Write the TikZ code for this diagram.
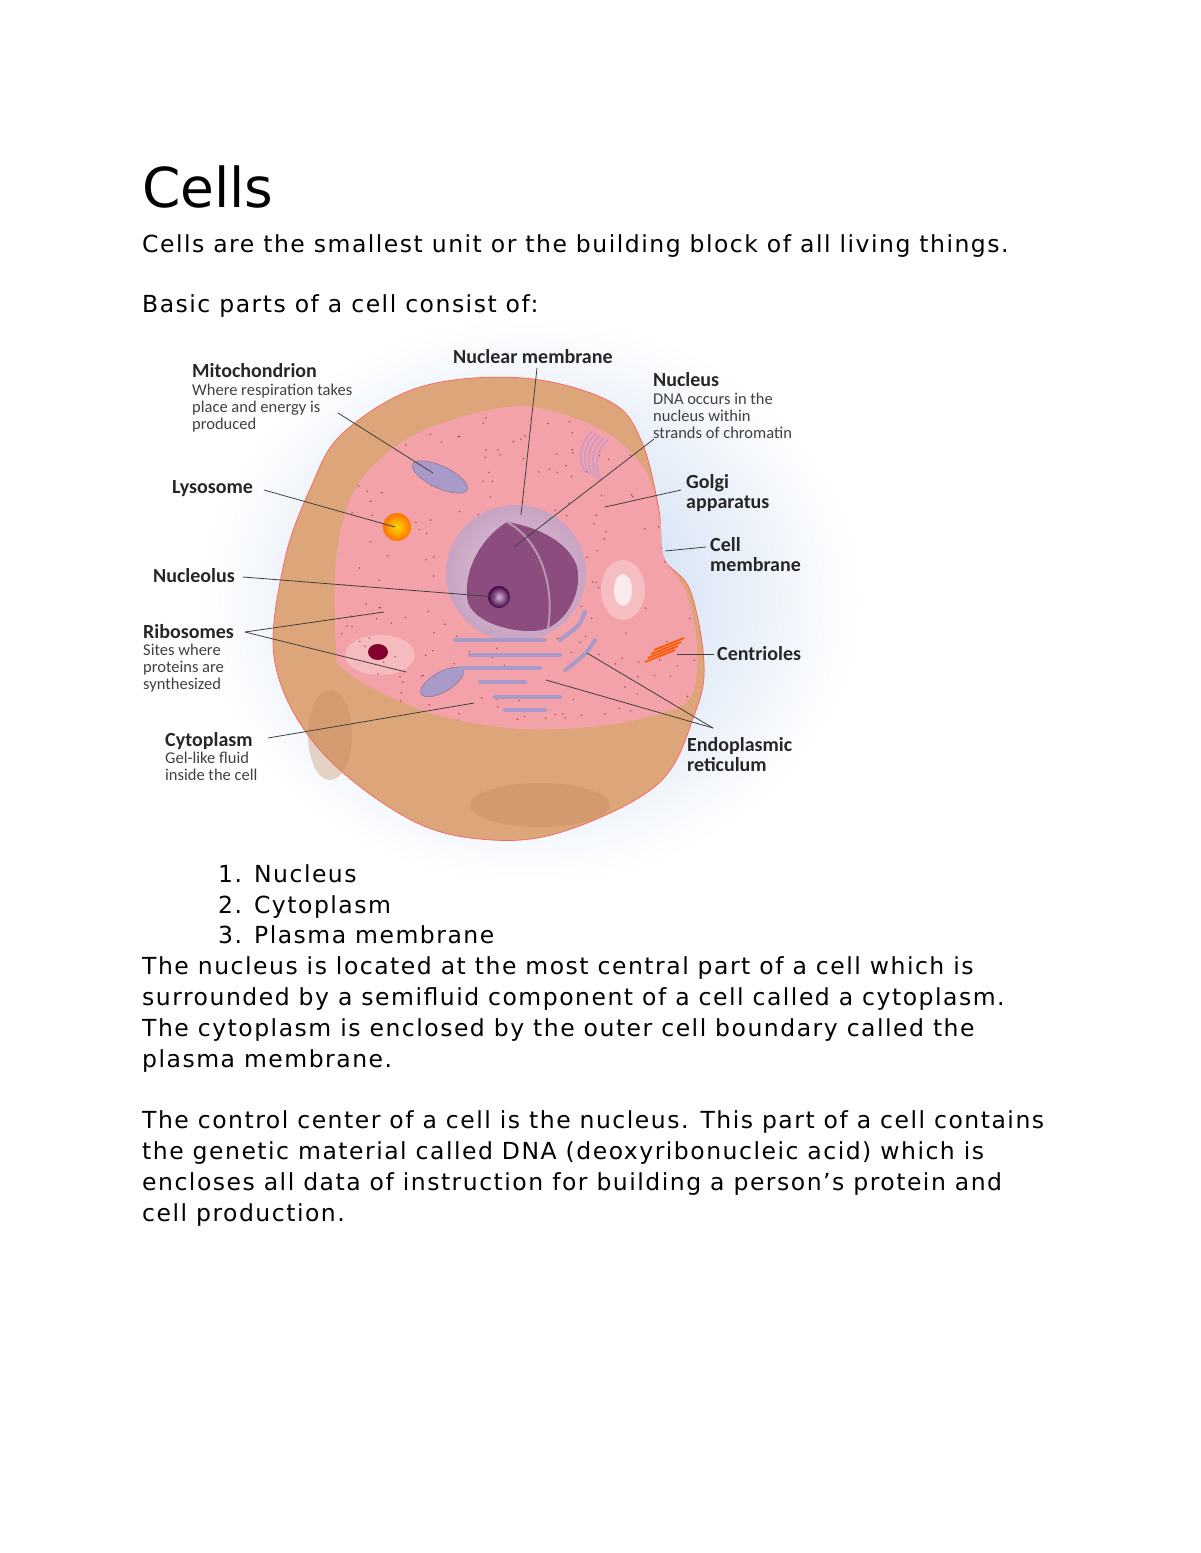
\documentclass[tikz,border=0pt]{standalone}
\usepackage{fontspec}
\setmainfont{DejaVu Sans}
\newfontfamily\bodyf[LetterSpace=6.4]{DejaVu Sans}
\newfontfamily\lab{Carlito}
\begin{document}
\begin{tikzpicture}[x=1pt,y=-1pt,
  body/.style={anchor=base west,inner sep=0pt,font=\bodyf\fontsize{23.5}{31}\selectfont},
  lbl/.style={anchor=base west,inner sep=0pt,font=\lab\bfseries\fontsize{20}{20}\selectfont,text=black!85},
  desc/.style={anchor=base west,inner sep=0pt,font=\lab\fontsize{16.5}{17}\selectfont,text=black!75,align=left},
  lead/.style={draw=black!75,line width=0.8pt}]
\useasboundingbox (0,0) rectangle (1200,1553);
\definecolor{tan}{HTML}{DDA57A}
\definecolor{tandark}{HTML}{C38A5E}
\definecolor{pinkc}{HTML}{F2A2A8}
\definecolor{pinkl}{HTML}{F9C6C8}
\definecolor{lilac}{HTML}{A99BC9}
\definecolor{nucout}{HTML}{C8A3C3}
\definecolor{nucin}{HTML}{8C4D7E}
\definecolor{glow}{HTML}{BFD3EE}
% glow
\shade[inner color=glow,outer color=white] (530,600) ellipse (330 and 285);
% title & text
\node[anchor=base west,inner sep=0pt,font=\fontsize{55}{60}\selectfont] (title) at (142,207) {Cells};
\node[body] (t1) at (142,252) {Cells are the smallest unit or the building block of all living things.};
\node[body] (t2) at (142,312) {Basic parts of a cell consist of:};
% outer cell
\fill[tan,draw=red!50!pink,line width=0.7pt] plot[smooth cycle,tension=0.6] coordinates{
 (343,433) (420,387) (523,378) (609,401) (641,440) (659,510) (663,557) (690,590)
 (704,663) (695,713) (659,783) (568,830) (492,840) (411,820) (320,750) (275,663) (284,563) (311,487)};
\fill[tandark,opacity=0.35] (330,735) ellipse (22 and 45);
\fill[tandark,opacity=0.4] (540,805) ellipse (70 and 22);
% interior
\path[fill=pinkc] plot[smooth cycle,tension=0.55] coordinates{
 (336,650) (336,560) (352,495) (388,452) (440,424) (523,406) (602,430) (645,470) (660,520) (664,557)
 (686,592) (697,645) (692,695) (663,713) (600,726) (520,729) (440,716) (380,692) (342,668)};
\fill[pinkl,opacity=0.8] (623,590) ellipse (22 and 30);
\fill[white,opacity=0.7] (623,590) ellipse (9 and 16);
\fill[pinkl,opacity=0.7] (380,655) ellipse (35 and 20);
\begin{scope}
\clip plot[smooth cycle,tension=0.55] coordinates{
 (336,650) (336,560) (352,495) (388,452) (440,424) (523,406) (602,430) (645,470) (660,520) (664,557)
 (686,592) (697,645) (692,695) (663,713) (600,726) (520,729) (440,716) (380,692) (342,668)};
\pgfmathsetseed{7}
\foreach \i in {1,...,220}{\pgfmathsetmacro\xx{330+370*rnd}\pgfmathsetmacro\yy{400+330*rnd}
 \fill[red!45!black,opacity=0.5] (\xx,\yy) circle (0.9);}
\end{scope}
% organelles
\fill[lilac,draw=lilac!70!black,rotate around={-25:(440,477)}] (440,477) ellipse (30 and 11);
\fill[lilac,draw=lilac!70!black,rotate around={30:(442,682)}] (442,682) ellipse (24 and 10);
\shade[inner color=yellow!70!orange,outer color=orange!90!red] (397,527) circle (14);
\fill[purple!70!black] (378,652) ellipse (10 and 8);
\foreach \k in {0,...,4}{\draw[violet!40,line width=1.6pt] (585+\k*4,472+\k*2) arc[start angle=150,end angle=230,radius=32];}
\foreach \k in {0,...,3}{\draw[orange!70!red,line width=1.8pt] (645+\k*3,662-\k*4)--(675+\k*3,650-\k*4);}
% nucleus
\shade[inner color=nucout!60,outer color=nucout] (516,573) ellipse (70 and 68);
\fill[nucin] (507,522) .. controls (478,540) and (462,575) .. (468,603) .. controls (478,628) and (530,636) .. (548,628)
 .. controls (568,618) and (580,595) .. (578,572) .. controls (575,548) and (545,528) .. (507,522);
\draw[nucin!60!white,line width=2pt] (507,522) .. controls (540,540) and (555,585) .. (548,628);
\shade[inner color=white!70!violet,outer color=violet!50!black] (499,597) circle (11);
% ER
\foreach \a/\b/\c in {455/640/545,470/655/560,460/668/540,480/682/525,495/697/560,505/710/545}{
 \draw[lilac,line width=4pt,line cap=round] (\a,\b)--(\c,\b);}
\draw[lilac,line width=4pt,line cap=round] (560,640) .. controls (580,625) .. (585,612);
\draw[lilac,line width=4pt,line cap=round] (565,670) .. controls (585,655) .. (595,640);
% labels
\node[lbl] (nm) at (453,363) {Nuclear membrane};
\node[lbl] (mi) at (192,377) {Mitochondrion};
\node[desc] (mid) at (192,395) {Where respiration takes};
\node[desc] at (192,412) {place and energy is};
\node[desc] at (192,429) {produced};
\node[lbl] (nu) at (653,386) {Nucleus};
\node[desc] at (653,404) {DNA occurs in the};
\node[desc] at (653,421) {nucleus within};
\node[desc] at (653,438) {strands of chromatin};
\node[lbl] (ly) at (172,493) {Lysosome};
\node[lbl] (go) at (686,488) {Golgi};
\node[lbl] at (686,508) {apparatus};
\node[lbl] (cm) at (710,551) {Cell};
\node[lbl] at (710,571) {membrane};
\node[lbl] (nl) at (153,582) {Nucleolus};
\node[lbl] (ri) at (143,638) {Ribosomes};
\node[desc] at (143,655) {Sites where};
\node[desc] at (143,672) {proteins are};
\node[desc] at (143,689) {synthesized};
\node[lbl] (ce) at (717,660) {Centrioles};
\node[lbl] (cy) at (165,746) {Cytoplasm};
\node[desc] at (165,763) {Gel-like fluid};
\node[desc] at (165,780) {inside the cell};
\node[lbl] (er) at (687,751) {Endoplasmic};
\node[lbl] at (687,771) {reticulum};
% leaders
\coordinate (nmE) at (521,515); \draw[lead] (537,368)--(nmE);
\coordinate (miE) at (433,473); \draw[lead] (338,413)--(miE);
\coordinate (nuE) at (514,547); \draw[lead] (654,439)--(nuE);
\coordinate (goE) at (605,507); \draw[lead] (681,490)--(goE);
\coordinate (lyE) at (395,527); \draw[lead] (264,490)--(lyE);
\coordinate (cmE) at (665,551); \draw[lead] (706,547)--(cmE);
\coordinate (nlE) at (496,597); \draw[lead] (243,577)--(nlE);
\coordinate (riA) at (384,612); \coordinate (riB) at (406,672);
\draw[lead] (245,632)--(riA); \draw[lead] (245,632)--(riB);
\coordinate (ceE) at (677,654); \draw[lead] (714,654)--(ceE);
\coordinate (cyE) at (474,703); \draw[lead] (268,738)--(cyE);
\coordinate (erA) at (587,653); \coordinate (erB) at (546,680);
\draw[lead] (713,728)--(erA); \draw[lead] (713,728)--(erB);
% list and paragraphs
\node[body] (l1) at (218,882) {1. Nucleus};
\node[body] (l2) at (218,913) {2. Cytoplasm};
\node[body] (l3) at (218,943) {3. Plasma membrane};
\node[body] (p1) at (142,974) {The nucleus is located at the most central part of a cell which is};
\node[body] at (142,1005) {surrounded by a semifluid component of a cell called a cytoplasm.};
\node[body] at (142,1036) {The cytoplasm is enclosed by the outer cell boundary called the};
\node[body] at (142,1067) {plasma membrane.};
\node[body] (p2) at (142,1128) {The control center of a cell is the nucleus. This part of a cell contains};
\node[body] at (142,1159) {the genetic material called DNA (deoxyribonucleic acid) which is};
\node[body] at (142,1190) {encloses all data of instruction for building a person’s protein and};
\node[body] at (142,1221) {cell production.};
\end{tikzpicture}
\end{document}
